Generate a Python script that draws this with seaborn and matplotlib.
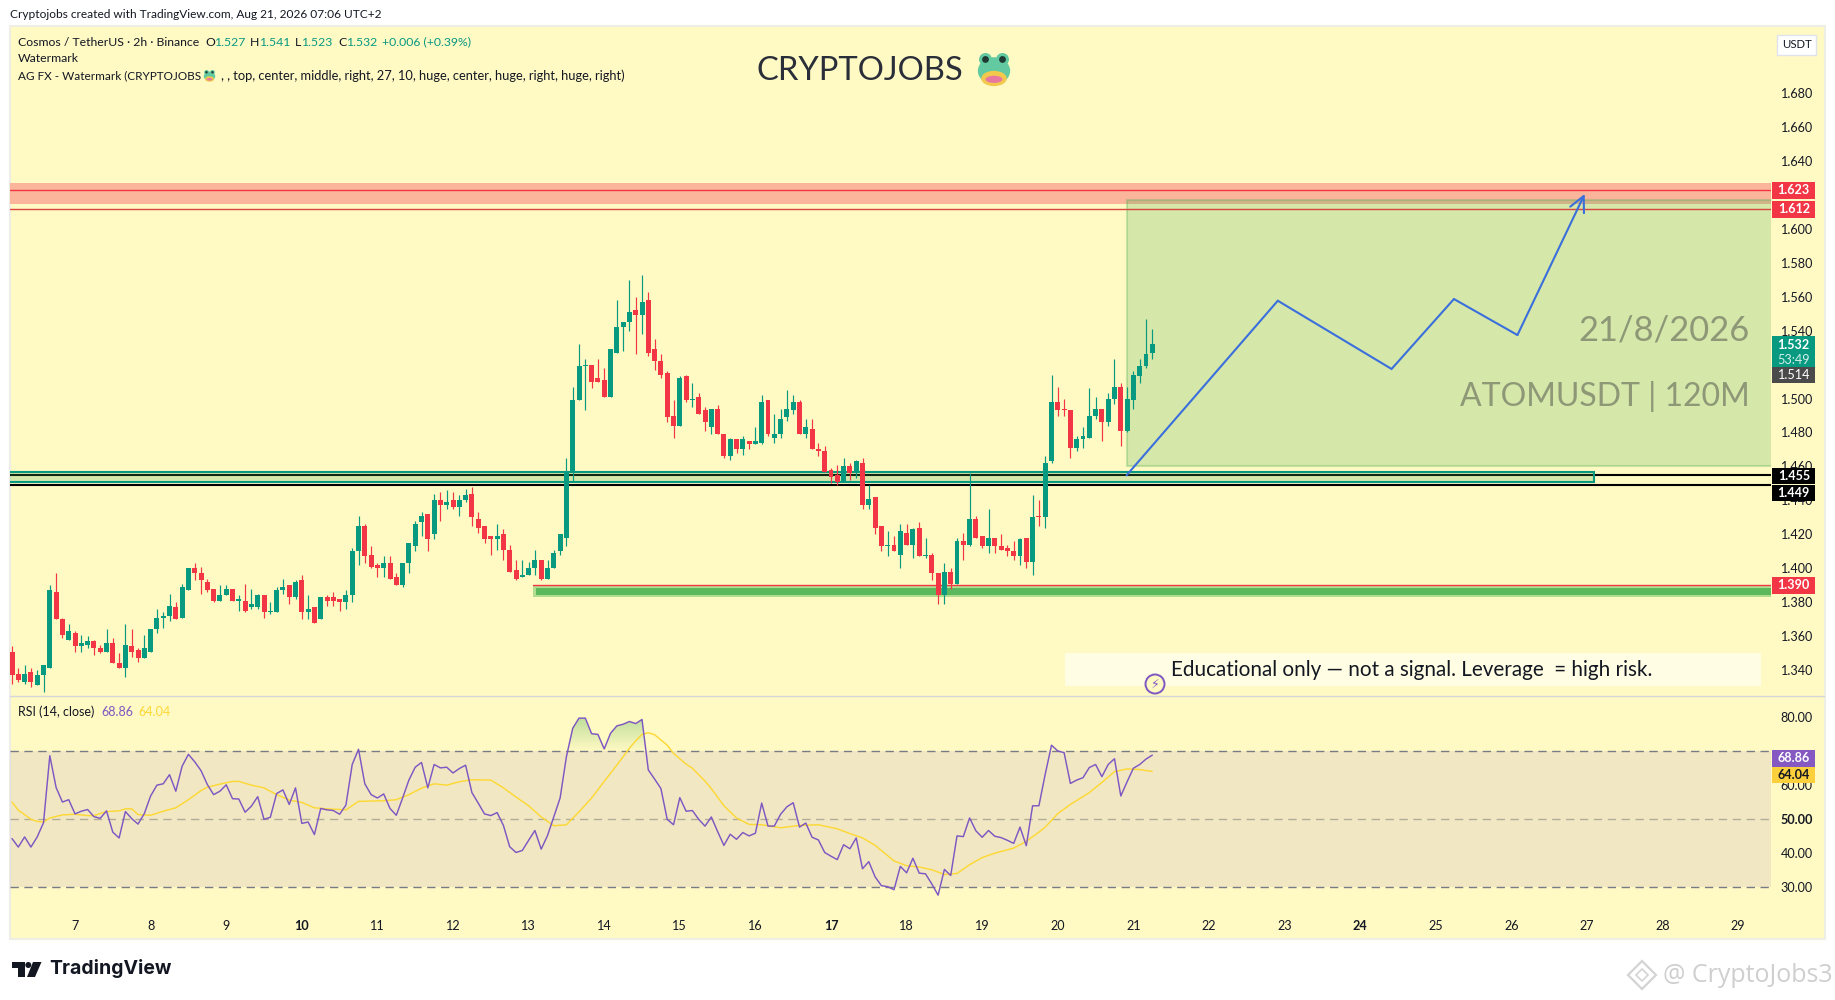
import numpy as np
import pandas as pd
import matplotlib
matplotlib.use("Agg")
import matplotlib.pyplot as plt
from matplotlib.patches import Rectangle, Circle, Ellipse, Polygon
from matplotlib.path import Path
import seaborn as sns

# 2h candles
opens = [1.351,1.338,1.333,1.339,1.331,1.337,1.341,1.386,1.370,1.358,
         1.362,1.354,1.355,1.357,1.353,1.351,1.356,1.344,1.341,1.354,
         1.352,1.347,1.351,1.364,1.371,1.372,1.377,1.371,1.387,1.400,
         1.397,1.392,1.388,1.381,1.384,1.388,1.381,1.381,1.377,1.377,
         1.384,1.374,1.374,1.387,1.390,1.383,1.393,1.374,1.377,1.370,
         1.383,1.383,1.382,1.380,1.384,1.410,1.425,1.408,1.402,1.400,
         1.403,1.395,1.390,1.403,1.413,1.427,1.432,1.420,1.440,1.437,
         1.440,1.436,1.440,1.444,1.429,1.425,1.419,1.417,1.420,1.411,
         1.399,1.395,1.396,1.400,1.405,1.394,1.400,1.410,1.418,1.456,
         1.499,1.519,1.520,1.512,1.511,1.501,1.527,1.542,1.545,1.552,
         1.549,1.558,1.529,1.522,1.515,1.490,1.484,1.513,1.499,1.501,
         1.493,1.483,1.494,1.479,1.466,1.476,1.470,1.475,1.473,1.474,
         1.499,1.477,1.479,1.489,1.493,1.498,1.479,1.482,1.470,1.469,
         1.458,1.455,1.451,1.460,1.457,1.462,1.437,1.442,1.425,1.413,
         1.414,1.408,1.421,1.414,1.424,1.407,1.408,1.397,1.384,1.398,
         1.391,1.416,1.414,1.429,1.419,1.413,1.418,1.413,1.412,1.410,
         1.407,1.418,1.404,1.431,1.430,1.463,1.498,1.494,1.493,1.471,
         1.476,1.477,1.490,1.494,1.486,1.500,1.507,1.481,1.499,1.513,1.519,1.527]
highs = [1.354,1.341,1.343,1.341,1.340,1.343,1.390,1.397,1.371,1.367,
         1.363,1.361,1.360,1.358,1.355,1.364,1.359,1.350,1.367,1.364,
         1.353,1.361,1.364,1.376,1.374,1.385,1.380,1.391,1.400,1.403,
         1.401,1.394,1.388,1.390,1.390,1.388,1.384,1.391,1.388,1.385,
         1.384,1.380,1.389,1.394,1.390,1.393,1.396,1.384,1.377,1.383,
         1.384,1.386,1.382,1.387,1.412,1.431,1.426,1.413,1.403,1.407,
         1.407,1.397,1.403,1.415,1.428,1.433,1.432,1.444,1.445,1.446,
         1.445,1.443,1.447,1.448,1.433,1.425,1.419,1.426,1.423,1.414,
         1.405,1.405,1.404,1.411,1.405,1.405,1.411,1.420,1.465,1.507,
         1.532,1.523,1.520,1.523,1.518,1.529,1.558,1.545,1.570,1.560,
         1.573,1.563,1.535,1.526,1.516,1.499,1.513,1.514,1.509,1.503,
         1.495,1.494,1.496,1.479,1.477,1.476,1.478,1.475,1.483,1.502,
         1.499,1.491,1.494,1.505,1.502,1.499,1.488,1.488,1.474,1.472,
         1.459,1.461,1.465,1.462,1.464,1.465,1.449,1.442,1.425,1.422,
         1.419,1.426,1.426,1.424,1.427,1.418,1.409,1.397,1.403,1.400,
         1.418,1.421,1.456,1.431,1.419,1.435,1.418,1.420,1.414,1.416,
         1.418,1.418,1.443,1.440,1.466,1.514,1.507,1.500,1.493,1.478,
         1.483,1.506,1.501,1.494,1.503,1.523,1.509,1.507,1.516,1.523,1.547,1.541]
lows = [1.332,1.333,1.332,1.330,1.331,1.327,1.341,1.370,1.359,1.358,
        1.351,1.351,1.353,1.349,1.350,1.351,1.344,1.341,1.336,1.348,
        1.345,1.347,1.351,1.362,1.365,1.369,1.370,1.371,1.387,1.393,
        1.385,1.386,1.380,1.381,1.384,1.381,1.375,1.374,1.376,1.376,
        1.371,1.373,1.374,1.385,1.379,1.382,1.370,1.370,1.368,1.370,
        1.378,1.378,1.375,1.376,1.380,1.402,1.403,1.400,1.395,1.395,
        1.394,1.390,1.389,1.397,1.410,1.419,1.410,1.417,1.428,1.435,
        1.435,1.431,1.439,1.425,1.421,1.415,1.408,1.411,1.405,1.398,
        1.393,1.395,1.396,1.396,1.393,1.394,1.400,1.408,1.413,1.451,
        1.499,1.493,1.506,1.510,1.501,1.501,1.527,1.528,1.540,1.526,
        1.538,1.525,1.517,1.512,1.486,1.477,1.484,1.498,1.495,1.491,
        1.481,1.479,1.479,1.465,1.464,1.468,1.467,1.470,1.473,1.473,
        1.478,1.474,1.477,1.487,1.491,1.479,1.477,1.470,1.466,1.457,
        1.450,1.449,1.451,1.452,1.453,1.435,1.435,1.420,1.410,1.407,
        1.410,1.400,1.414,1.406,1.407,1.406,1.393,1.379,1.379,1.388,
        1.391,1.405,1.413,1.418,1.412,1.409,1.409,1.411,1.407,1.405,
        1.402,1.400,1.396,1.425,1.424,1.462,1.490,1.490,1.465,1.469,
        1.471,1.477,1.488,1.475,1.484,1.497,1.472,1.480,1.494,1.509,1.518,1.523]
closes = [1.337,1.334,1.338,1.333,1.337,1.343,1.387,1.370,1.361,1.363,
          1.354,1.356,1.357,1.353,1.351,1.356,1.344,1.341,1.355,1.351,
          1.347,1.353,1.364,1.371,1.372,1.378,1.370,1.389,1.400,1.397,
          1.393,1.387,1.381,1.384,1.388,1.381,1.382,1.375,1.379,1.384,
          1.374,1.375,1.387,1.389,1.383,1.392,1.374,1.376,1.368,1.383,
          1.381,1.381,1.380,1.384,1.410,1.425,1.407,1.401,1.400,1.403,
          1.394,1.390,1.403,1.415,1.426,1.431,1.417,1.440,1.437,1.439,
          1.436,1.440,1.443,1.430,1.424,1.417,1.417,1.419,1.411,1.398,
          1.394,1.396,1.400,1.405,1.394,1.400,1.409,1.420,1.457,1.499,
          1.519,1.520,1.510,1.510,1.501,1.529,1.542,1.545,1.551,1.549,
          1.557,1.527,1.522,1.514,1.489,1.484,1.512,1.499,1.500,1.491,
          1.486,1.494,1.479,1.466,1.476,1.470,1.476,1.473,1.475,1.498,
          1.479,1.479,1.488,1.494,1.498,1.479,1.483,1.470,1.469,1.457,
          1.454,1.451,1.460,1.456,1.463,1.437,1.441,1.424,1.413,1.414,
          1.410,1.422,1.414,1.423,1.407,1.408,1.397,1.384,1.398,1.391,
          1.416,1.414,1.429,1.418,1.413,1.418,1.413,1.411,1.410,1.407,
          1.417,1.404,1.430,1.430,1.462,1.498,1.493,1.493,1.471,1.476,
          1.478,1.490,1.494,1.486,1.500,1.507,1.481,1.500,1.514,1.519,1.526,1.532]

rsi = [44.2,41.7,44.7,41.7,44.7,48.9,68.7,59.3,55.0,55.7,51.5,52.3,52.8,50.7,50.2,52.4,
       46.1,44.4,52.2,50.1,48.5,51.6,56.8,60.0,60.4,63.1,58.2,65.6,69.1,66.9,64.3,60.2,
       57.2,58.2,60.1,56.0,55.9,52.0,53.8,56.6,49.9,50.5,57.5,58.6,54.3,59.2,
       48.7,49.1,45.4,53.1,52.7,52.5,51.4,54.1,66.1,70.6,60.4,57.2,56.2,57.4,53.1,51.1,
       56.2,61.5,65.3,66.7,59.2,66.1,65.1,65.3,63.6,64.9,65.9,57.8,54.7,51.5,51.0,51.9,
       48.1,41.8,40.1,40.7,43.7,46.6,41.1,45.1,50.6,56.2,68.4,76.8,79.8,79.8,
       75.2,75.0,70.7,75.3,77.5,78.0,78.8,78.2,79.4,64.5,61.8,59.0,49.9,48.3,56.3,52.3,
       52.5,49.9,47.9,50.6,46.3,42.2,45.5,44.0,46.0,45.0,45.8,54.7,47.9,47.9,51.4,53.6,
       54.8,47.6,48.8,44.6,43.8,40.1,39.0,38.0,42.4,41.2,44.4,35.3,37.4,32.9,30.3,
       30.0,29.1,36.0,34.1,38.4,34.0,33.8,30.8,27.5,35.1,33.3,45.0,44.8,50.3,46.5,44.6,
       46.6,44.9,44.5,43.7,42.8,47.6,42.1,53.9,53.9,63.2,71.8,70.1,69.6,60.5,61.5,62.2,
       65.2,66.1,62.5,66.1,67.8,56.8,61.0,65.0,66.1,67.7,68.86]

# yellow RSI average: candle number and value at the bends
ma_bar = [0,1,2,3,4,5,6,8,10,12,13,15,17,18,19,20,22,24,26,28,30,31,33,35,36,38,40,42,44,
          46,48,50,53,55,59,61,63,65,67,69,71,73,76,78,80,82,84,86,88,90,92,
          94,96,98,99,100,101,102,104,105,107,108,110,111,113,115,117,119,122,125,128,131,133,135,137,138,
          140,142,144,146,148,150,152,154,156,159,161,163,164,166,168,171,173,175,177,179,181]
ma_val = [55.0,52.6,51.3,49.9,49.3,49.1,50.3,51.2,51.4,51.0,51.0,52.2,52.4,53.0,53.0,51.3,51.1,52.3,53.3,55.7,58.4,59.4,60.3,61.1,61.1,60.0,59.2,57.2,55.6,
          54.9,53.3,53.0,52.7,55.2,55.4,55.7,57.2,59.1,60.4,60.0,61.0,61.6,61.5,59.2,56.5,53.9,50.6,48.0,48.3,52.1,56.2,
          61.1,65.9,70.9,73.1,75.0,75.5,74.9,71.8,69.4,66.2,65.0,61.2,59.0,53.9,50.3,48.4,48.3,47.4,48.1,48.3,47.1,45.7,44.4,42.2,40.7,
          37.6,36.2,35.8,35.0,33.6,33.9,36.5,38.6,39.9,41.4,43.4,46.1,47.6,51.6,54.3,57.8,60.8,64.0,64.8,64.6,64.04]

# drawn path (day of month, price)
path_day = [20.91,22.91,24.415,25.24,26.08,26.97]
path_price = [1.4548,1.5576,1.5174,1.5586,1.5374,1.6205]

last_day = 21.25
day_ticks = list(range(7, 30))
# 1.520 and 1.620 sit behind the value boxes in the reference
price_ticks = [1.34,1.36,1.38,1.40,1.42,1.44,1.46,1.48,1.50,1.54,1.56,1.58,1.60,1.64,1.66,1.68]
rsi_ticks = [30, 40, 50, 60, 80]

up = "#089981"
down = "#f23645"
bg = "#fff9c4"
ink = "#131722"
purple = "#7e57c2"
yellow = "#fdd835"
blue = "#3a6fdc"

W, H = 1835, 1000
LEFT, RIGHT = 10, 1771
DAY_MIN, DAY_MAX = 6.140, 29.434

sns.set_theme(style="white")
plt.rcParams["font.family"] = ["Lato", "DejaVu Sans"]

fig = plt.figure(figsize=(W/100, H/100), dpi=100, facecolor="white")


def px_axes(x0, y0, x1, y1, **kw):
    return fig.add_axes([x0/W, 1 - y1/H, (x1-x0)/W, (y1-y0)/H], **kw)


back = px_axes(0, 0, W, H, zorder=0)
back.set_xlim(0, W)
back.set_ylim(H, 0)
back.axis("off")
back.add_patch(Rectangle((10, 26), 1814.5, 913, fc=bg, ec="#eeeee6", lw=1.5))

ax = px_axes(LEFT, 26, RIGHT, 696, zorder=2)
ax2 = px_axes(LEFT, 696, RIGHT, 908, zorder=2)
for a in (ax, ax2):
    a.patch.set_alpha(0)
    sns.despine(ax=a, left=True, bottom=True, top=True, right=True)
    a.set_xlim(DAY_MIN, DAY_MAX)
    a.yaxis.tick_right()
    a.tick_params(axis="both", length=0, colors=ink, labelsize=9.1)
    a.tick_params(axis="y", pad=7)

ax.set_ylim(1.3248, 1.7194)
ax2.set_ylim(23.7, 86.34)

# zones and levels, under the candles
ax.axhspan(1.6145, 1.6269, fc="#fab59a", lw=0, zorder=1)
ax.add_patch(Rectangle((20.915, 1.4603), DAY_MAX-20.915+0.1, 1.6169-1.4603, fc=(0.298, 0.686, 0.314, 0.23),
                       ec=(0.298, 0.686, 0.314, 0.3), lw=1.5, zorder=1.2))
ax.axhline(1.623, color=down, lw=1, zorder=1.5)
ax.axhline(1.6115, color="#d9453f", lw=1, zorder=1.5)
ax.axhline(1.4552, color="black", lw=1.5, zorder=1.6)
ax.axhline(1.4493, color="black", lw=1.5, zorder=1.6)
ax.add_patch(Rectangle((DAY_MIN-1, 1.4508), 27.09-DAY_MIN+1, 1.4567-1.4508, fc=(0.298, 0.686, 0.314, 0.23),
                       ec=up, lw=1.5, zorder=1.7))
ax.add_patch(Rectangle((13.06, 1.3831), DAY_MAX-13.06+0.1, 1.3900-1.3831, fc="#b2dc8e", lw=0, zorder=1.2))
ax.add_patch(Rectangle((13.10, 1.3845), DAY_MAX-13.10+0.1, 1.3884-1.3845, fc="#5cb85c", lw=0, zorder=1.3))
ax.plot([13.06, DAY_MAX], [1.390, 1.390], color=down, lw=1, zorder=1.5)

# candles
candles = pd.DataFrame({"open": opens, "high": highs, "low": lows, "close": closes, "rsi": rsi})
candles["day"] = last_day - (len(candles) - 1 - candles.index) / 12
candles["colour"] = np.where(candles["close"] >= candles["open"], up, down)
ax.vlines(candles["day"], candles["low"], candles["high"], colors=candles["colour"], lw=0.85, zorder=3)
ax.bar(candles["day"], (candles["close"] - candles["open"]).abs(),
       bottom=candles[["open", "close"]].min(axis=1), width=0.066, color=candles["colour"], lw=0, zorder=3.1)

# forecast path
ax.plot(path_day[:-1], path_price[:-1], color=blue, lw=1.5, solid_joinstyle="miter", zorder=4)
ax.annotate("", xy=(path_day[-1], path_price[-1]), xytext=(path_day[-2], path_price[-2]), zorder=4,
            arrowprops=dict(arrowstyle="->,head_length=0.85,head_width=0.42", mutation_scale=13, color=blue, lw=1.5,
                            shrinkA=0, shrinkB=0))

ax.set_xticks([])
ax.set_yticks(price_ticks)
ax.set_yticklabels([f"{v:.3f}" for v in price_ticks], ha="left")

# RSI pane
ax2.axhspan(30, 70, fc=(0.494, 0.341, 0.761, 0.10), lw=0, zorder=1)
for lev, col in zip([70, 50, 30], ["#787b86", "#b0ac98", "#787b86"]):
    ax2.axhline(lev, color=col, lw=1, dashes=(6, 4), zorder=1.2)

x_rsi = candles["day"].to_numpy()
y_rsi = candles["rsi"].to_numpy()
shade = ax2.fill_between(x_rsi, 70, y_rsi, where=y_rsi > 70, interpolate=True, color="none", lw=0)
grad = np.zeros((100, 2, 4))
grad[:, :, :3] = (0.298, 0.686, 0.314)
grad[:, :, 3] = np.linspace(0.36, 0.0, 100)[:, None]
img = ax2.imshow(grad, extent=(DAY_MIN, DAY_MAX, 70, 80), origin="upper", aspect="auto", zorder=1.1)
img.set_clip_path(Path.make_compound_path(*shade.get_paths()), transform=ax2.transData)
ax2.set_xlim(DAY_MIN, DAY_MAX)
ax2.set_ylim(23.7, 86.34)

ma = pd.DataFrame({"day": candles["day"].to_numpy()[ma_bar], "ma": ma_val})
sns.lineplot(data=ma, x="day", y="ma", color=yellow, lw=1.05, ax=ax2, zorder=2)
sns.lineplot(data=candles, x="day", y="rsi", color=purple, lw=1.05, ax=ax2, zorder=2.2)
ax2.set_xlabel("")
ax2.set_ylabel("")
ax.set_ylabel("")
ax2.yaxis.set_label_position("right")

ax2.set_xticks(day_ticks)
ax2.set_xticklabels([str(d) for d in day_ticks])
for lab in ax2.get_xticklabels():
    if lab.get_text() in ("10", "17", "24"):
        lab.set_fontweight("bold")
ax2.tick_params(axis="x", pad=8.5)
ax2.set_yticks(rsi_ticks)
ax2.set_yticklabels([f"{v:.2f}" for v in rsi_ticks], ha="left")
for lab in ax2.get_yticklabels():
    if lab.get_text() == "50.00":
        lab.set_fontweight("bold")


# value boxes on the scale: centre value, label, fill, text colour
def scale_box(a, centre, height, label, fill, tc="white", sub=None):
    tr = a.get_yaxis_transform()
    w = 43.5 / (RIGHT - LEFT)
    a.add_patch(Rectangle((1 + 1/(RIGHT-LEFT), centre - height/2), w, height, transform=tr,
                          fc=fill, lw=0, clip_on=False, zorder=6))
    a.text(1 + 1/(RIGHT-LEFT) + w/2, centre + (0.0040 if sub else 0), label, transform=tr, color=tc, ha="center",
           va="center", fontsize=9.1, fontweight="bold" if fill != "#4a4a4a" else "normal", clip_on=False, zorder=7)
    if sub:
        a.text(1 + 1/(RIGHT-LEFT) + w/2, centre - 0.0048, sub, transform=tr, color="#d5efe8", ha="center",
               va="center", fontsize=9.1, clip_on=False, zorder=7)


box_h = 0.0100
scale_box(ax, 1.6226, box_h, "1.623", down)
scale_box(ax, 1.6114, box_h, "1.612", down)
scale_box(ax, 1.5277, 0.0182, "1.532", up, sub="53:49")
scale_box(ax, 1.5138, 0.0094, "1.514", "#4a4a4a")
scale_box(ax, 1.4544, 0.0090, "1.455", "black")
scale_box(ax, 1.4444, 0.0094, "1.449", "black")
scale_box(ax, 1.3900, 0.0100, "1.390", down)
scale_box(ax2, 68.0, 5.0, "68.86", "#8558c2")
scale_box(ax2, 63.0, 5.0, "64.04", "#fbd03c", tc=ink)

# everything else sits in picture pixels
top = px_axes(0, 0, W, H, zorder=8)
top.set_xlim(0, W)
top.set_ylim(H, 0)
top.axis("off")
top.patch.set_alpha(0)


def label(x, y, s, size=8.8, color=ink, ha="left", **kw):
    top.text(x, y, s, fontsize=size, color=color, ha=ha, va="center", **kw)


def frog(cx, cy, r):
    top.add_patch(Ellipse((cx, cy + 0.05*r), 1.9*r, 1.6*r, fc="#62c9a0", lw=0))
    top.add_patch(Ellipse((cx, cy + 0.5*r), 1.5*r, 0.9*r, fc="#f2c94c", lw=0))
    top.add_patch(Ellipse((cx, cy + 0.55*r), 1.0*r, 0.42*r, fc="#e878a0", lw=0))
    for s in (-1, 1):
        top.add_patch(Circle((cx + s*0.5*r, cy - 0.62*r), 0.38*r, fc="#62c9a0", lw=0))
        top.add_patch(Circle((cx + s*0.5*r, cy - 0.62*r), 0.2*r, fc="#1f3b34", lw=0))


label(10, 15, "Cryptojobs created with TradingView.com, Aug 21, 2026 07:06 UTC+2", size=8.6)
label(18, 42, "Cosmos / TetherUS · 2h · Binance")
for x, s, col in [(205, "O", ink), (214, "1.527", up), (250, "H", ink), (258.9, "1.541", up),
                  (294.6, "L", ink), (301, "1.523", up), (338, "C", ink), (346, "1.532", up),
                  (381.7, "+0.006 (+0.39%)", up)]:
    label(x, 42, s, color=col)
label(18, 59, "Watermark")
label(18, 76, "AG FX - Watermark (CRYPTOJOBS", size=8.5)
frog(209.5, 76, 6)
label(221, 76, ", , top, center, middle, right, 27, 10, huge, center, huge, right, huge, right)", size=9.3)

label(756, 71, "CRYPTOJOBS", size=23.6, color="#2a2e39")
frog(994, 70, 17)

top.add_patch(Rectangle((1777, 35), 39, 20, fc="white", ec="#e0e3eb", lw=1))
label(1796.5, 45, "USDT", size=8.2, ha="center")

label(1750, 330, "21/8/2026", size=24.8, color="#8e9877", ha="right")
label(1750, 396, "ATOMUSDT | 120M", size=23, color="#8e9877", ha="right")

top.add_patch(Rectangle((1065, 653), 696, 33, fc="#fffde3", lw=0))
label(1171, 670.5, "Educational only — not a signal. Leverage  = high risk.", size=14.9)
top.add_patch(Circle((1155, 684), 9.5, fc=bg, ec=purple, lw=1.4))
top.text(1155, 684, "⚡", fontsize=9, color=purple, ha="center", va="center", family="DejaVu Sans")

label(18, 711.5, "RSI (14, close)", size=9)
label(101.6, 711.5, "68.86", color=purple, size=9)
label(138, 711.5, "64.04", color=yellow, size=9)

top.plot([10, 1824], [696, 696], color="#d5d6dc", lw=1)

# logo and corner mark
top.add_patch(Polygon([(11.6, 962), (24.5, 962), (24.5, 977), (18, 977), (18, 967.5), (11.6, 967.5)], fc=ink, lw=0))
top.add_patch(Circle((28.3, 965), 3, fc=ink, lw=0))
top.add_patch(Polygon([(33, 962), (41.5, 962), (35, 977), (27, 977)], fc=ink, lw=0))
label(49, 969, "TradingView", size=14, fontweight="bold", family="Inter")

top.add_patch(Polygon([(1642, 961), (1656, 975), (1642, 989), (1628, 975)], fc="none", ec="#d4d4d4", lw=1.6))
top.add_patch(Polygon([(1642, 969), (1648, 975), (1642, 981), (1636, 975)], fc="none", ec="#d4d4d4", lw=1.2))
top.text(1663, 975, "@ CryptoJobs3", fontsize=18, color="#cfcfcf", ha="left", va="center", family="Open Sans")

fig.savefig("out.png", dpi=100, facecolor="white")
